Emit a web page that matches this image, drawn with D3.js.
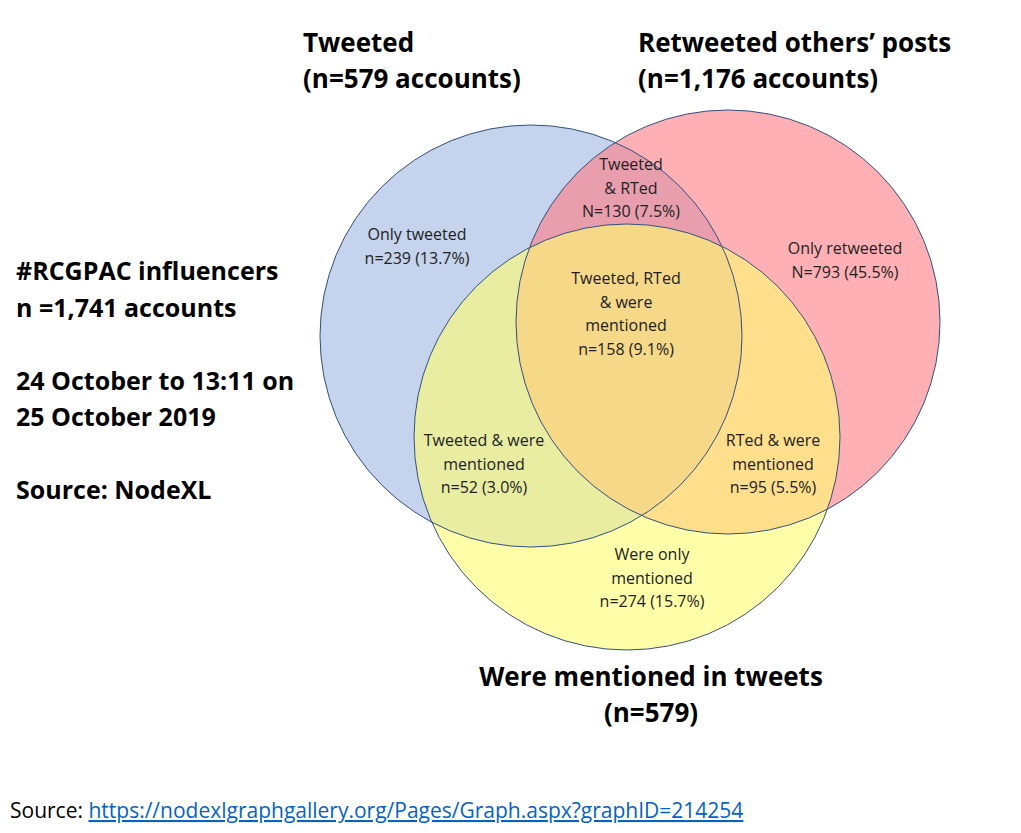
<!DOCTYPE html>
<html><head><meta charset="utf-8">
<script src="https://cdn.jsdelivr.net/npm/d3@7"></script>
<style>body{margin:0;background:#fff}svg{display:block}</style>
</head><body>
<script>
const setNames = ["Tweeted", "Retweeted others’ posts", "Were mentioned in tweets"];
const setSizes = [579, 1176, 579];
const setColors = ["#9eb6df", "#ff7b84", "#ffff71"];
const regionLines = [
  ["Only tweeted", "n=239 (13.7%)"],
  ["Tweeted", "& RTed", "N=130 (7.5%)"],
  ["Only retweeted", "N=793 (45.5%)"],
  ["Tweeted, RTed", "& were", "mentioned", "n=158 (9.1%)"],
  ["Tweeted & were", "mentioned", "n=52 (3.0%)"],
  ["RTed & were", "mentioned", "n=95 (5.5%)"],
  ["Were only", "mentioned", "n=274 (15.7%)"]
];
const sideLines = ["#RCGPAC influencers", "n =1,741 accounts", "", "24 October to 13:11 on", "25 October 2019", "", "Source: NodeXL"];
const sourceUrl = "https://nodexlgraphgallery.org/Pages/Graph.aspx?graphID=214254";

const W = 1021, H = 833;
const svg = d3.select("body").append("svg").attr("width", W).attr("height", H);
const font = "'Open Sans', 'Noto Sans', sans-serif";
const circles = [{cx:531, cy:336, r:211}, {cx:728, cy:322, r:212}, {cx:627, cy:437, r:213}];
const g = svg.append("g");
g.selectAll("circle").data(circles).join("circle")
  .attr("cx", d => d.cx).attr("cy", d => d.cy).attr("r", d => d.r)
  .attr("fill", (d, i) => setColors[i]).attr("fill-opacity", 0.6);
g.selectAll("circle.o").data(circles).join("circle").attr("class", "o")
  .attr("cx", d => d.cx).attr("cy", d => d.cy).attr("r", d => d.r)
  .attr("fill", "none").attr("stroke", "#34507f").attr("stroke-width", 1);

const regionPos = [[417, 240], [631, 170], [845, 254], [626, 284], [484, 446], [773, 446], [652, 560]];
regionLines.forEach((lines, i) => {
  const t = svg.append("text").attr("text-anchor", "middle").attr("font-family", font)
    .attr("font-size", 16).attr("fill", "#222");
  lines.forEach((l, j) => t.append("tspan").attr("x", regionPos[i][0]).attr("y", regionPos[i][1] + j * 23.5).text(l));
});

const titles = [
  {x:303, y:52, anchor:"start", lines:[setNames[0], `(n=${setSizes[0]} accounts)`]},
  {x:638, y:52, anchor:"start", lines:[setNames[1], `(n=${d3.format(",")(setSizes[1])} accounts)`]},
  {x:651, y:686, anchor:"middle", lines:[setNames[2], `(n=${setSizes[2]})`]}
];
titles.forEach(tt => {
  const t = svg.append("text").attr("text-anchor", tt.anchor).attr("font-family", font)
    .attr("font-size", 26).attr("font-weight", "bold").attr("fill", "#000");
  tt.lines.forEach((l, j) => t.append("tspan").attr("x", tt.x).attr("y", tt.y + j * 36).text(l));
});

const side = svg.append("text").attr("font-family", font).attr("font-size", 25)
  .attr("font-weight", "bold").attr("fill", "#000");
sideLines.forEach((l, j) => side.append("tspan").attr("x", 16).attr("y", 280 + j * 36.5).text(l));

const src = svg.append("text").attr("x", 10).attr("y", 818).attr("font-family", font).attr("font-size", 21).attr("fill", "#000");
src.append("tspan").text("Source: ");
src.append("tspan").attr("fill", "#0563c1").attr("text-decoration", "underline").text(sourceUrl);
</script>
</body></html>
